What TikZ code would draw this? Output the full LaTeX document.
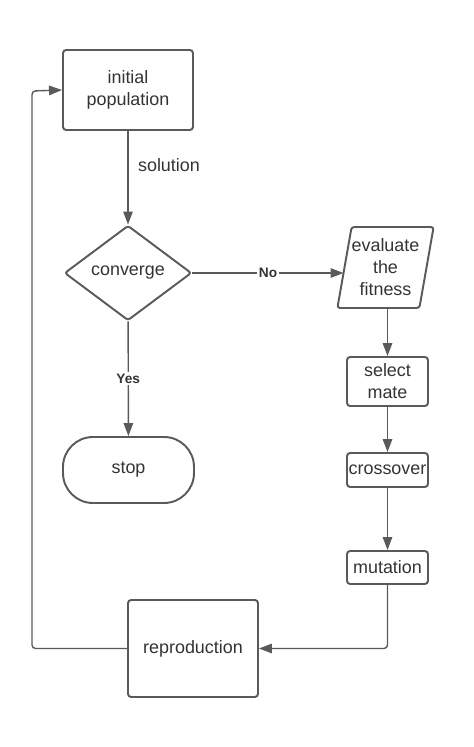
\documentclass[tikz,border=0pt]{standalone}
\usepackage{fontspec}
\setmainfont{Liberation Sans}
\usetikzlibrary{shapes.geometric,arrows.meta}
\definecolor{linegray}{HTML}{5A5A5A}
\definecolor{textgray}{HTML}{333333}

\begin{document}
\begin{tikzpicture}[
  every node/.style={text=textgray, font=\fontsize{10.2}{12.5}\selectfont},
  box/.style={draw=linegray, line width=1.1pt, rounded corners=1.8pt, align=center, inner sep=0pt},
  decision/.style={draw=linegray, line width=1.1pt, diamond, inner sep=0pt, minimum width=2.54cm, minimum height=1.9cm, rounded corners=1.5pt},
  terminal/.style={draw=linegray, line width=1.1pt, rounded corners=0.6cm, inner sep=0pt, minimum width=2.62cm, minimum height=1.32cm},
  io/.style={draw=linegray, line width=1.1pt, trapezium, trapezium left angle=76, trapezium right angle=104, trapezium stretches=true, rounded corners=1.5pt, align=center, inner sep=0pt, minimum width=1.9cm, minimum height=1.62cm},
  conn/.style={draw=linegray, line width=0.8pt, -{Triangle[length=2.6mm,width=1.9mm]}},
  lab/.style={fill=white, font=\fontsize{7.8}{9}\bfseries, inner sep=1pt}
]
\useasboundingbox (0,0) rectangle (9.48,14.94);
\node[box, minimum width=2.6cm, minimum height=1.6cm] (init) at (2.56,13.14) {initial\\population};
\node[decision] (conv) at (2.56,9.48) {converge};
\node[io] (eval) at (7.71,9.59) {evaluate\\the\\fitness};
\node[box, minimum width=1.62cm, minimum height=0.98cm] (sel) at (7.75,7.31) {select\\mate};
\node[box, minimum width=1.62cm, minimum height=0.68cm] (cross) at (7.75,5.54) {crossover};
\node[box, minimum width=1.62cm, minimum height=0.66cm] (mut) at (7.75,3.59) {mutation};
\node[box, minimum width=2.6cm, minimum height=1.94cm] (rep) at (3.86,1.97) {reproduction};
\node[terminal] (stop) at (2.57,5.54) {stop};
\coordinate (ret) at (0.64,13.12);

\draw[conn] (init) -- node[right=2pt, pos=0.37]{solution} (conv);
\draw[conn] (conv.east) -- node[lab]{No} (conv.east -| eval.west);
\draw[conn] (conv) -- node[lab]{Yes} (stop);
\draw[conn] (sel.north |- eval.south) -- (sel.north);
\draw[conn] (sel) -- (cross);
\draw[conn] (cross) -- (mut);
\draw[conn, rounded corners=2pt] (mut.south) |- (rep.east);
\draw[conn, rounded corners=2pt] (rep.west) -| (ret) -- (init.west);
\end{tikzpicture}
\end{document}
